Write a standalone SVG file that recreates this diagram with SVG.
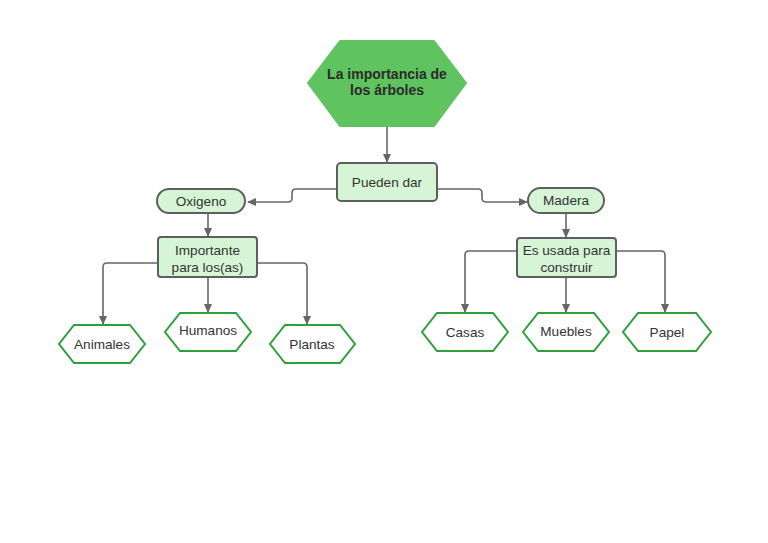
<svg xmlns="http://www.w3.org/2000/svg" width="768" height="543" viewBox="0 0 768 543">
<style>
text{font-family:"Liberation Sans",Arial,sans-serif;font-size:13.6px;fill:#333;text-anchor:middle;dominant-baseline:central}
.t{font-weight:bold;font-size:14px;fill:#2b2b2b}
.box{fill:#d6f5d6;stroke:#5f5f5f;stroke-width:2}
.hex{fill:#fff;stroke:#2f9e3c;stroke-width:2}
.c{fill:none;stroke:#666;stroke-width:1.6}
</style>
<defs>
<marker id="ah" viewBox="0 0 10 10" refX="9" refY="5" markerWidth="9" markerHeight="9" markerUnits="userSpaceOnUse" orient="auto">
<path d="M0,0.5 L10,5 L0,9.5 z" fill="#666"/>
</marker>
</defs>
<rect width="768" height="543" fill="#fff"/>
<g id="connectors">
<path class="c" d="M387,126 V162" marker-end="url(#ah)"/>
<path class="c" d="M337,189 H296 Q292,189 292,193 V198 Q292,202 288,202 H248" marker-end="url(#ah)"/>
<path class="c" d="M437,189 H478 Q482,189 482,193 V198 Q482,202 486,202 H527" marker-end="url(#ah)"/>
<path class="c" d="M208,213 V236" marker-end="url(#ah)"/>
<path class="c" d="M158,263 H107 Q103,263 103,267 V324" marker-end="url(#ah)"/>
<path class="c" d="M208,277 V312" marker-end="url(#ah)"/>
<path class="c" d="M257,263 H303 Q307,263 307,267 V324" marker-end="url(#ah)"/>
<path class="c" d="M566,213 V237" marker-end="url(#ah)"/>
<path class="c" d="M517,251 H469 Q465,251 465,255 V312" marker-end="url(#ah)"/>
<path class="c" d="M566,277 V312" marker-end="url(#ah)"/>
<path class="c" d="M616,251 H661 Q665,251 665,255 V312" marker-end="url(#ah)"/>
</g>
<g id="n-title">
<path d="M340,41 H434 L466,83 L434,126 H340 L308,83 Z" fill="#5fc35f" stroke="#5fc35f" stroke-width="2" stroke-linejoin="round"/>
<text class="t" x="387" y="74">La importancia de</text>
<text class="t" x="387" y="90">los árboles</text>
</g>
<g id="n-pueden">
<rect class="box" x="337" y="163" width="100" height="38" rx="4"/>
<text x="387" y="182">Pueden dar</text>
</g>
<g id="n-oxigeno">
<rect class="box" x="157" y="189" width="88" height="24" rx="12"/>
<text x="201" y="201">Oxigeno</text>
</g>
<g id="n-madera">
<rect class="box" x="528" y="188" width="76" height="25" rx="12.5"/>
<text x="566" y="200">Madera</text>
</g>
<g id="n-importante">
<rect class="box" x="158" y="237" width="99" height="40" rx="3"/>
<text x="207.5" y="250">Importante</text>
<text x="207.5" y="267">para los(as)</text>
</g>
<g id="n-usada">
<rect class="box" x="517" y="238" width="99" height="39" rx="3"/>
<text x="566.5" y="250">Es usada para</text>
<text x="566.5" y="267">construir</text>
</g>
<g id="n-animales">
<path class="hex" d="M74,325 H130 L145,344 L130,363 H74 L59,344 Z"/>
<text x="102" y="344">Animales</text>
</g>
<g id="n-humanos">
<path class="hex" d="M180,313 H236 L251,332 L236,351 H180 L165,332 Z"/>
<text x="208" y="330">Humanos</text>
</g>
<g id="n-plantas">
<path class="hex" d="M285,325 H340 L355,344 L340,363 H285 L270,344 Z"/>
<text x="312" y="344">Plantas</text>
</g>
<g id="n-casas">
<path class="hex" d="M437,313 H493 L508,332 L493,351 H437 L422,332 Z"/>
<text x="465" y="332">Casas</text>
</g>
<g id="n-muebles">
<path class="hex" d="M538,313 H594 L609,332 L594,351 H538 L523,332 Z"/>
<text x="566" y="331">Muebles</text>
</g>
<g id="n-papel">
<path class="hex" d="M638,313 H696 L711,332 L696,351 H638 L623,332 Z"/>
<text x="667" y="332">Papel</text>
</g>
</svg>
